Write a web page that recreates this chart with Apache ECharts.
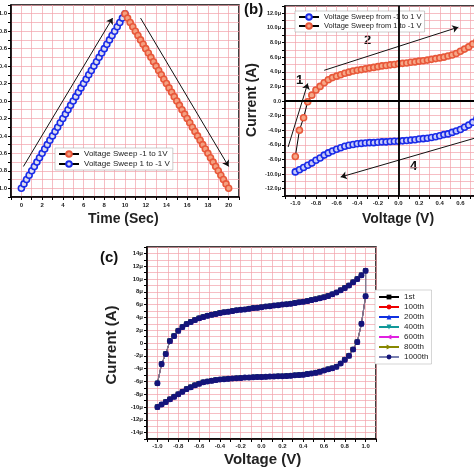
<!DOCTYPE html>
<html><head><meta charset="utf-8">
<script src="https://cdn.jsdelivr.net/npm/echarts@6/dist/echarts.min.js"></script>
<style>html,body{margin:0;padding:0;background:#fff}#c{width:474px;height:474px}</style>
</head><body><div id="c"></div>
<script>
// Panel (a)
const timeUp = [0,0.25,0.5,0.75,1,1.25,1.5,1.75,2,2.25,2.5,2.75,3,3.25,3.5,3.75,4,4.25,4.5,4.75,5,5.25,5.5,5.75,6,6.25,6.5,6.75,7,7.25,7.5,7.75,8,8.25,8.5,8.75,9,9.25,9.5,9.75,10];
const voltUp = [-1,-0.95,-0.9,-0.85,-0.8,-0.75,-0.7,-0.65,-0.6,-0.55,-0.5,-0.45,-0.4,-0.35,-0.3,-0.25,-0.2,-0.15,-0.1,-0.05,0,0.05,0.1,0.15,0.2,0.25,0.3,0.35,0.4,0.45,0.5,0.55,0.6,0.65,0.7,0.75,0.8,0.85,0.9,0.95,1];
const timeDown = [10,10.25,10.5,10.75,11,11.25,11.5,11.75,12,12.25,12.5,12.75,13,13.25,13.5,13.75,14,14.25,14.5,14.75,15,15.25,15.5,15.75,16,16.25,16.5,16.75,17,17.25,17.5,17.75,18,18.25,18.5,18.75,19,19.25,19.5,19.75,20];
const voltDown = [1,0.95,0.9,0.85,0.8,0.75,0.7,0.65,0.6,0.55,0.5,0.45,0.4,0.35,0.3,0.25,0.2,0.15,0.1,0.05,0,-0.05,-0.1,-0.15,-0.2,-0.25,-0.3,-0.35,-0.4,-0.45,-0.5,-0.55,-0.6,-0.65,-0.7,-0.75,-0.8,-0.85,-0.9,-0.95,-1];
// Panel (b) and (c) voltage grid
const vGrid = [-1,-0.96,-0.92,-0.88,-0.84,-0.8,-0.76,-0.72,-0.68,-0.64,-0.6,-0.56,-0.52,-0.48,-0.44,-0.4,-0.36,-0.32,-0.28,-0.24,-0.2,-0.16,-0.12,-0.08,-0.04,0,0.04,0.08,0.12,0.16,0.2,0.24,0.28,0.32,0.36,0.4,0.44,0.48,0.52,0.56,0.6,0.64,0.68,0.72,0.76,0.8,0.84,0.88,0.92,0.96,1];
const bRed = [-7.6,-4.0,-2.3,-0.1,0.8,1.5,2.0,2.5,2.9,3.2,3.4,3.6,3.8,3.95,4.1,4.2,4.3,4.4,4.5,4.6,4.7,4.8,4.85,4.95,5.0,5.1,5.15,5.2,5.3,5.35,5.45,5.5,5.6,5.7,5.8,5.9,6.0,6.15,6.3,6.5,6.8,7.1,7.4,7.8,8.2,8.7,9.2,9.7,10.3,11.0,11.6];
const bBlue = [-9.7,-9.4,-9.1,-8.8,-8.5,-8.1,-7.8,-7.4,-7.1,-6.85,-6.6,-6.4,-6.2,-6.05,-5.95,-5.85,-5.8,-5.75,-5.7,-5.7,-5.65,-5.6,-5.6,-5.55,-5.5,-5.5,-5.45,-5.4,-5.35,-5.3,-5.2,-5.15,-5.1,-5.0,-4.9,-4.75,-4.6,-4.5,-4.3,-4.1,-3.9,-3.6,-3.3,-2.9,-2.4,-1.8,-1.0,0,1.0,3.0,7.4];
const cUpper = [-6.3,-3.3,-1.7,0.3,1.1,1.9,2.5,2.95,3.3,3.6,3.85,4.05,4.25,4.4,4.55,4.7,4.8,4.9,5.0,5.1,5.2,5.25,5.35,5.45,5.5,5.6,5.7,5.75,5.85,5.9,6.0,6.05,6.15,6.25,6.35,6.45,6.55,6.7,6.85,7.0,7.15,7.35,7.6,7.9,8.25,8.6,9.0,9.5,10.0,10.6,11.3];
const cLower = [-10,-9.6,-9.2,-8.8,-8.4,-8.0,-7.6,-7.2,-6.9,-6.6,-6.35,-6.15,-6.0,-5.9,-5.8,-5.7,-5.65,-5.6,-5.55,-5.5,-5.45,-5.4,-5.4,-5.35,-5.3,-5.3,-5.28,-5.25,-5.22,-5.2,-5.2,-5.15,-5.1,-5.05,-5.0,-4.95,-4.85,-4.75,-4.65,-4.5,-4.3,-4.1,-3.95,-3.7,-3.2,-2.6,-2.0,-1.0,0.15,3.0,7.3];
const cycleNames = ['1st','100th','200th','400th','600th','800th','1000th'];
const cycleColors = ['#000','#e00','#1030e0','#119999','#e020e0','#888800','#14147a'];
const cycleSymbols = ['rect','circle','triangle','path://M0,0L10,0L5,9Z','path://M9,0L9,10L0,5Z','path://M0,0L0,10L9,5Z','circle'];

const pairs = (x, y) => x.map((v, i) => [v, y[i]]);
const loopC = pairs(vGrid, cUpper).concat(pairs(vGrid, cLower).reverse());

const grid = '#f2a2aa';
const fmtA = v => { const r = Math.round(v * 10); return (Math.abs(r) <= 10 && r % 2 === 0) ? (r / 10).toFixed(1) : ''; };
const fmtB = v => { const r = Math.round(v); return (Math.abs(r) <= 12 && r % 2 === 0) ? (r === 0 ? '0.0' : r.toFixed(1) + 'μ') : ''; };
const fmtC = v => { const r = Math.round(v); return (Math.abs(r) <= 14 && r % 2 === 0) ? (r === 0 ? '0' : r + 'μ') : ''; };
const fmtV = v => { const r = Math.round(v * 10); return (Math.abs(r) <= 10 && r % 2 === 0) ? (r / 10).toFixed(1) : ''; };
const lab = f => ({ formatter: f, fontSize: 6, color: '#222', margin: 4, fontWeight: 'bold', interval: 0 });
const sl = { show: true, lineStyle: { color: grid, width: 0.7 } };
const ax = { onZero: false, lineStyle: { color: '#000', width: 1.5 } };

const opt = {
  animation: false,
  grid: [
    { left: 11, right: 235, top: 5, bottom: 277, show: true, borderColor: '#000', borderWidth: 1.5, outerBoundsMode: 'none', containLabel: false },
    { left: 285, right: -38, top: 6, bottom: 278, show: true, borderColor: '#000', borderWidth: 1.5, outerBoundsMode: 'none', containLabel: false },
    { left: 147, right: 98, top: 247, bottom: 35, show: true, borderColor: '#000', borderWidth: 1.5, outerBoundsMode: 'none', containLabel: false }
  ],
  xAxis: [
    { gridIndex: 0, type: 'value', min: -1, max: 21, interval: 1, axisLabel: { formatter: v => (v >= 0 && v <= 20 && v % 2 === 0) ? String(v) : '', fontSize: 6, color: '#222', fontWeight: 'bold', margin: 5, interval: 0 }, splitLine: sl, axisTick: { length: 3 }, axisLine: ax },
    { gridIndex: 1, type: 'value', min: -1.1, max: 1.1, interval: 0.1, axisLabel: lab(fmtV), splitLine: sl, axisTick: { length: 3 }, axisLine: ax },
    { gridIndex: 2, type: 'value', min: -1.1, max: 1.1, interval: 0.1, axisLabel: lab(fmtV), splitLine: sl, axisTick: { length: 3 }, axisLine: ax }
  ],
  yAxis: [
    { gridIndex: 0, type: 'value', min: -1.1, max: 1.1, interval: 0.1, axisLabel: lab(fmtA), splitLine: sl, axisTick: { length: 3 }, axisLine: ax },
    { gridIndex: 1, type: 'value', min: -13, max: 13, interval: 1, axisLabel: Object.assign(lab(fmtB), { fontSize: 5.5 }), splitLine: sl, axisTick: { length: 3 }, axisLine: ax },
    { gridIndex: 2, type: 'value', min: -15, max: 15, interval: 1, axisLabel: lab(fmtC), splitLine: sl, axisTick: { length: 3 }, axisLine: ax }
  ],
  legend: [
    { data: ['Voltage Sweep -1 to 1V', 'Voltage Sweep 1 to -1 V'], left: 55, top: 148, orient: 'vertical', itemGap: 2, itemWidth: 20, itemHeight: 7, textStyle: { fontSize: 8, color: '#222' }, backgroundColor: '#fff', borderColor: '#999', borderWidth: 0.5, padding: [2, 3] },
    { data: ['Voltage Sweep from -1 to 1 V', 'Voltage Sweep from 1 to -1 V'], left: 295, top: 11, orient: 'vertical', itemGap: 1, itemWidth: 20, itemHeight: 7, textStyle: { fontSize: 7.5, color: '#222' }, backgroundColor: '#fff', borderColor: '#999', borderWidth: 0.5, padding: [2, 3] },
    { data: cycleNames, left: 375, top: 290, orient: 'vertical', itemGap: 2, itemWidth: 20, itemHeight: 6, textStyle: { fontSize: 8, color: '#222' }, backgroundColor: '#fff', borderColor: '#aaa', borderWidth: 0.5, padding: [3, 3] }
  ],
  series: [
    { name: 'Voltage Sweep 1 to -1 V', type: 'line', xAxisIndex: 0, yAxisIndex: 0, data: pairs(timeUp, voltUp), symbol: 'circle', symbolSize: 6, lineStyle: { color: '#000', width: 1 }, itemStyle: { color: '#dde', borderColor: '#1a2be8', borderWidth: 1.6 },
      markLine: { silent: true, symbol: ['none', 'arrow'], symbolSize: 6, label: { show: false }, lineStyle: { color: '#111', width: 1, type: 'solid' }, data: [[{ coord: [0.2, -0.75] }, { coord: [8.8, 0.95] }], [{ coord: [11.5, 0.95] }, { coord: [20, -0.75] }]] } },
    { name: 'Voltage Sweep -1 to 1V', type: 'line', xAxisIndex: 0, yAxisIndex: 0, data: pairs(timeDown, voltDown), symbol: 'circle', symbolSize: 6, lineStyle: { color: '#000', width: 1 }, itemStyle: { color: '#f4a080', borderColor: '#e8583a', borderWidth: 1.6 } },
    { name: 'Voltage Sweep from -1 to 1 V', type: 'line', xAxisIndex: 1, yAxisIndex: 1, data: pairs(vGrid, bBlue), symbol: 'circle', symbolSize: 6, lineStyle: { color: '#000', width: 1 }, itemStyle: { color: '#c8ccf8', borderColor: '#1a2be8', borderWidth: 1.6 },
      markLine: { silent: true, symbol: ['none', 'arrow'], symbolSize: 6, label: { show: false }, lineStyle: { color: '#111', width: 1, type: 'solid' }, data: [[{ coord: [-1.07, -6.3] }, { coord: [-0.88, 2.4] }], [{ coord: [-0.72, 4.2] }, { coord: [0.58, 10.1] }], [{ coord: [0.76, -5.0] }, { coord: [-0.56, -10.4] }]] } },
    { name: 'Voltage Sweep from 1 to -1 V', type: 'line', xAxisIndex: 1, yAxisIndex: 1, data: pairs(vGrid, bRed), symbol: 'circle', symbolSize: 6, lineStyle: { color: '#000', width: 1 }, itemStyle: { color: '#f6a888', borderColor: '#e8583a', borderWidth: 1.6 },
      markLine: { silent: true, symbol: 'none', label: { show: false }, lineStyle: { color: '#000', width: 1.8, type: 'solid' }, data: [{ xAxis: 0 }, { yAxis: 0 }] } }
  ].concat(cycleNames.map((n, k) => ({
    name: n, type: 'line', xAxisIndex: 2, yAxisIndex: 2, data: loopC, symbol: cycleSymbols[k], symbolSize: k === 6 ? 6 : 5,
    lineStyle: { color: k === 6 ? '#7a80b0' : cycleColors[k], width: 0.8 }, itemStyle: { color: cycleColors[k] }
  }))),
  graphic: [
    { type: 'text', left: 88, top: 212, style: { text: 'Time (Sec)', font: 'bold 14px Arial, Liberation Sans', fill: '#222' } },
    { type: 'text', left: 362, top: 212, style: { text: 'Voltage (V)', font: 'bold 14px Arial, Liberation Sans', fill: '#222' } },
    { type: 'text', left: 244, top: 2, style: { text: '(b)', font: 'bold 15px Arial, Liberation Sans', fill: '#111' } },
    { type: 'text', x: 252, y: 100, rotation: Math.PI / 2, style: { text: 'Current (A)', font: 'bold 14px Arial, Liberation Sans', fill: '#222', align: 'center', verticalAlign: 'middle' } },
    { type: 'text', left: 296, top: 74, style: { text: '1', font: 'bold 13px Arial', fill: '#111' } },
    { type: 'text', left: 364, top: 34, style: { text: '2', font: 'bold 13px Arial', fill: '#111' } },
    { type: 'text', left: 410, top: 160, style: { text: '4', font: 'bold 13px Arial', fill: '#111' } },
    { type: 'text', left: 100, top: 250, style: { text: '(c)', font: 'bold 15px Arial, Liberation Sans', fill: '#111' } },
    { type: 'text', x: 112, y: 345, rotation: Math.PI / 2, style: { text: 'Current (A)', font: 'bold 15px Arial, Liberation Sans', fill: '#222', align: 'center', verticalAlign: 'middle' } },
    { type: 'text', left: 224, top: 452, style: { text: 'Voltage (V)', font: 'bold 15px Arial, Liberation Sans', fill: '#222' } }
  ]
};
const ch = echarts.init(document.getElementById('c'));
ch.setOption(opt);
</script></body></html>
